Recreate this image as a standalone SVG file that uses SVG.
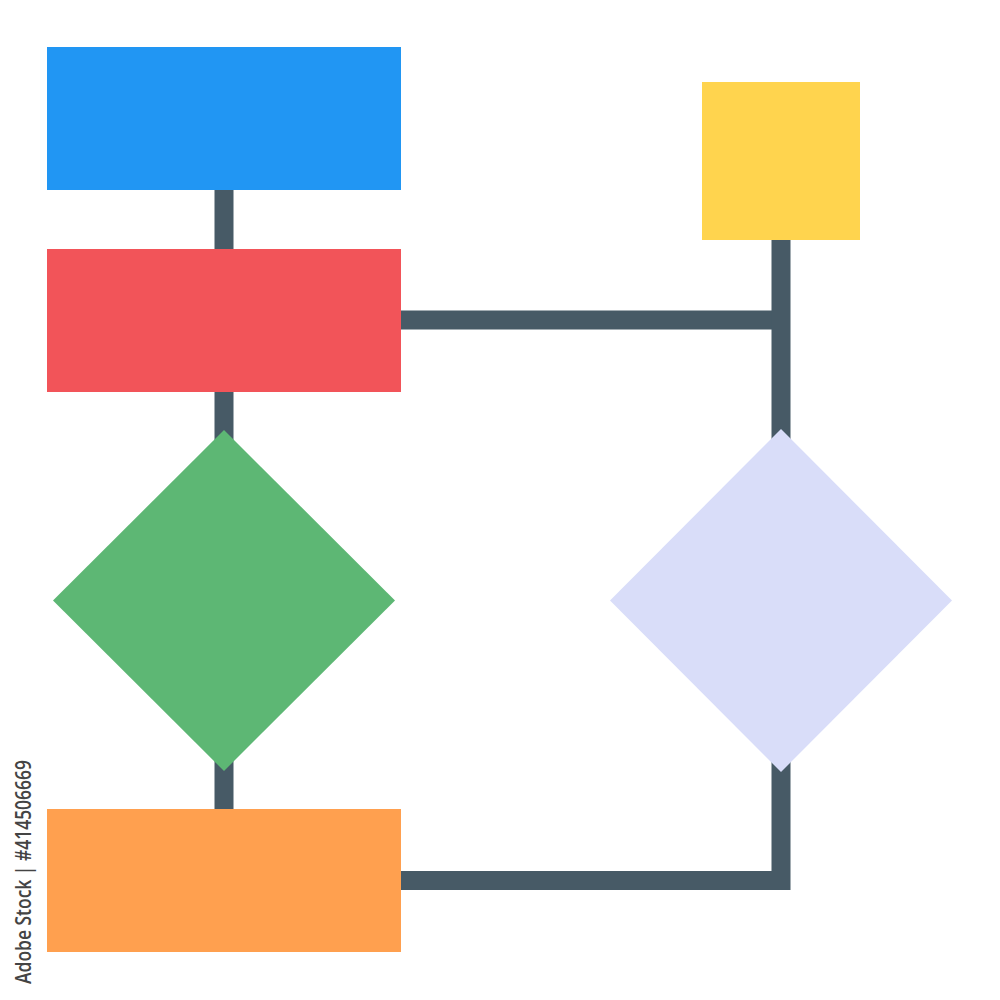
<svg xmlns="http://www.w3.org/2000/svg" width="1000" height="1000" viewBox="0 0 1000 1000">
  <style>
    .conn { fill: none; stroke: #475A66; stroke-width: 19; stroke-linejoin: miter; stroke-linecap: butt; }
    .label { font-family: "Open Sans", "Liberation Sans", sans-serif; font-size: 21px; fill: #444444; font-weight: 600; stroke: #ffffff; stroke-width: 3; paint-order: stroke; stroke-opacity: 0.8; }
  </style>
  <rect x="0" y="0" width="1000" height="1000" fill="#ffffff"/>
  <g id="connectors">
    <path class="conn" d="M224 185 V254"/>
    <path class="conn" d="M224 387 V440"/>
    <path class="conn" d="M224 760 V814"/>
    <path class="conn" d="M396 320 H781"/>
    <path class="conn" d="M781 235 V440"/>
    <path class="conn" d="M396 880.5 H781 V760"/>
  </g>
  <g id="node-blue"><rect x="47" y="47" width="354" height="143" fill="#2196F3"/></g>
  <g id="node-red"><rect x="47" y="249" width="354" height="143" fill="#F25459"/></g>
  <g id="node-yellow"><rect x="702" y="82" width="158" height="158" fill="#FFD44E"/></g>
  <g id="node-green"><polygon points="224,430 395,600.5 224,771 53,600.5" fill="#5DB774"/></g>
  <g id="node-lavender"><polygon points="781,429 952,600.5 781,772 610,600.5" fill="#D9DDF9"/></g>
  <g id="node-orange"><rect x="47" y="809" width="354" height="143" fill="#FFA04F"/></g>
  <text class="label" transform="translate(31,984) rotate(-90)" x="0" y="0" textLength="224" lengthAdjust="spacingAndGlyphs">Adobe Stock | #414506669</text>
</svg>
